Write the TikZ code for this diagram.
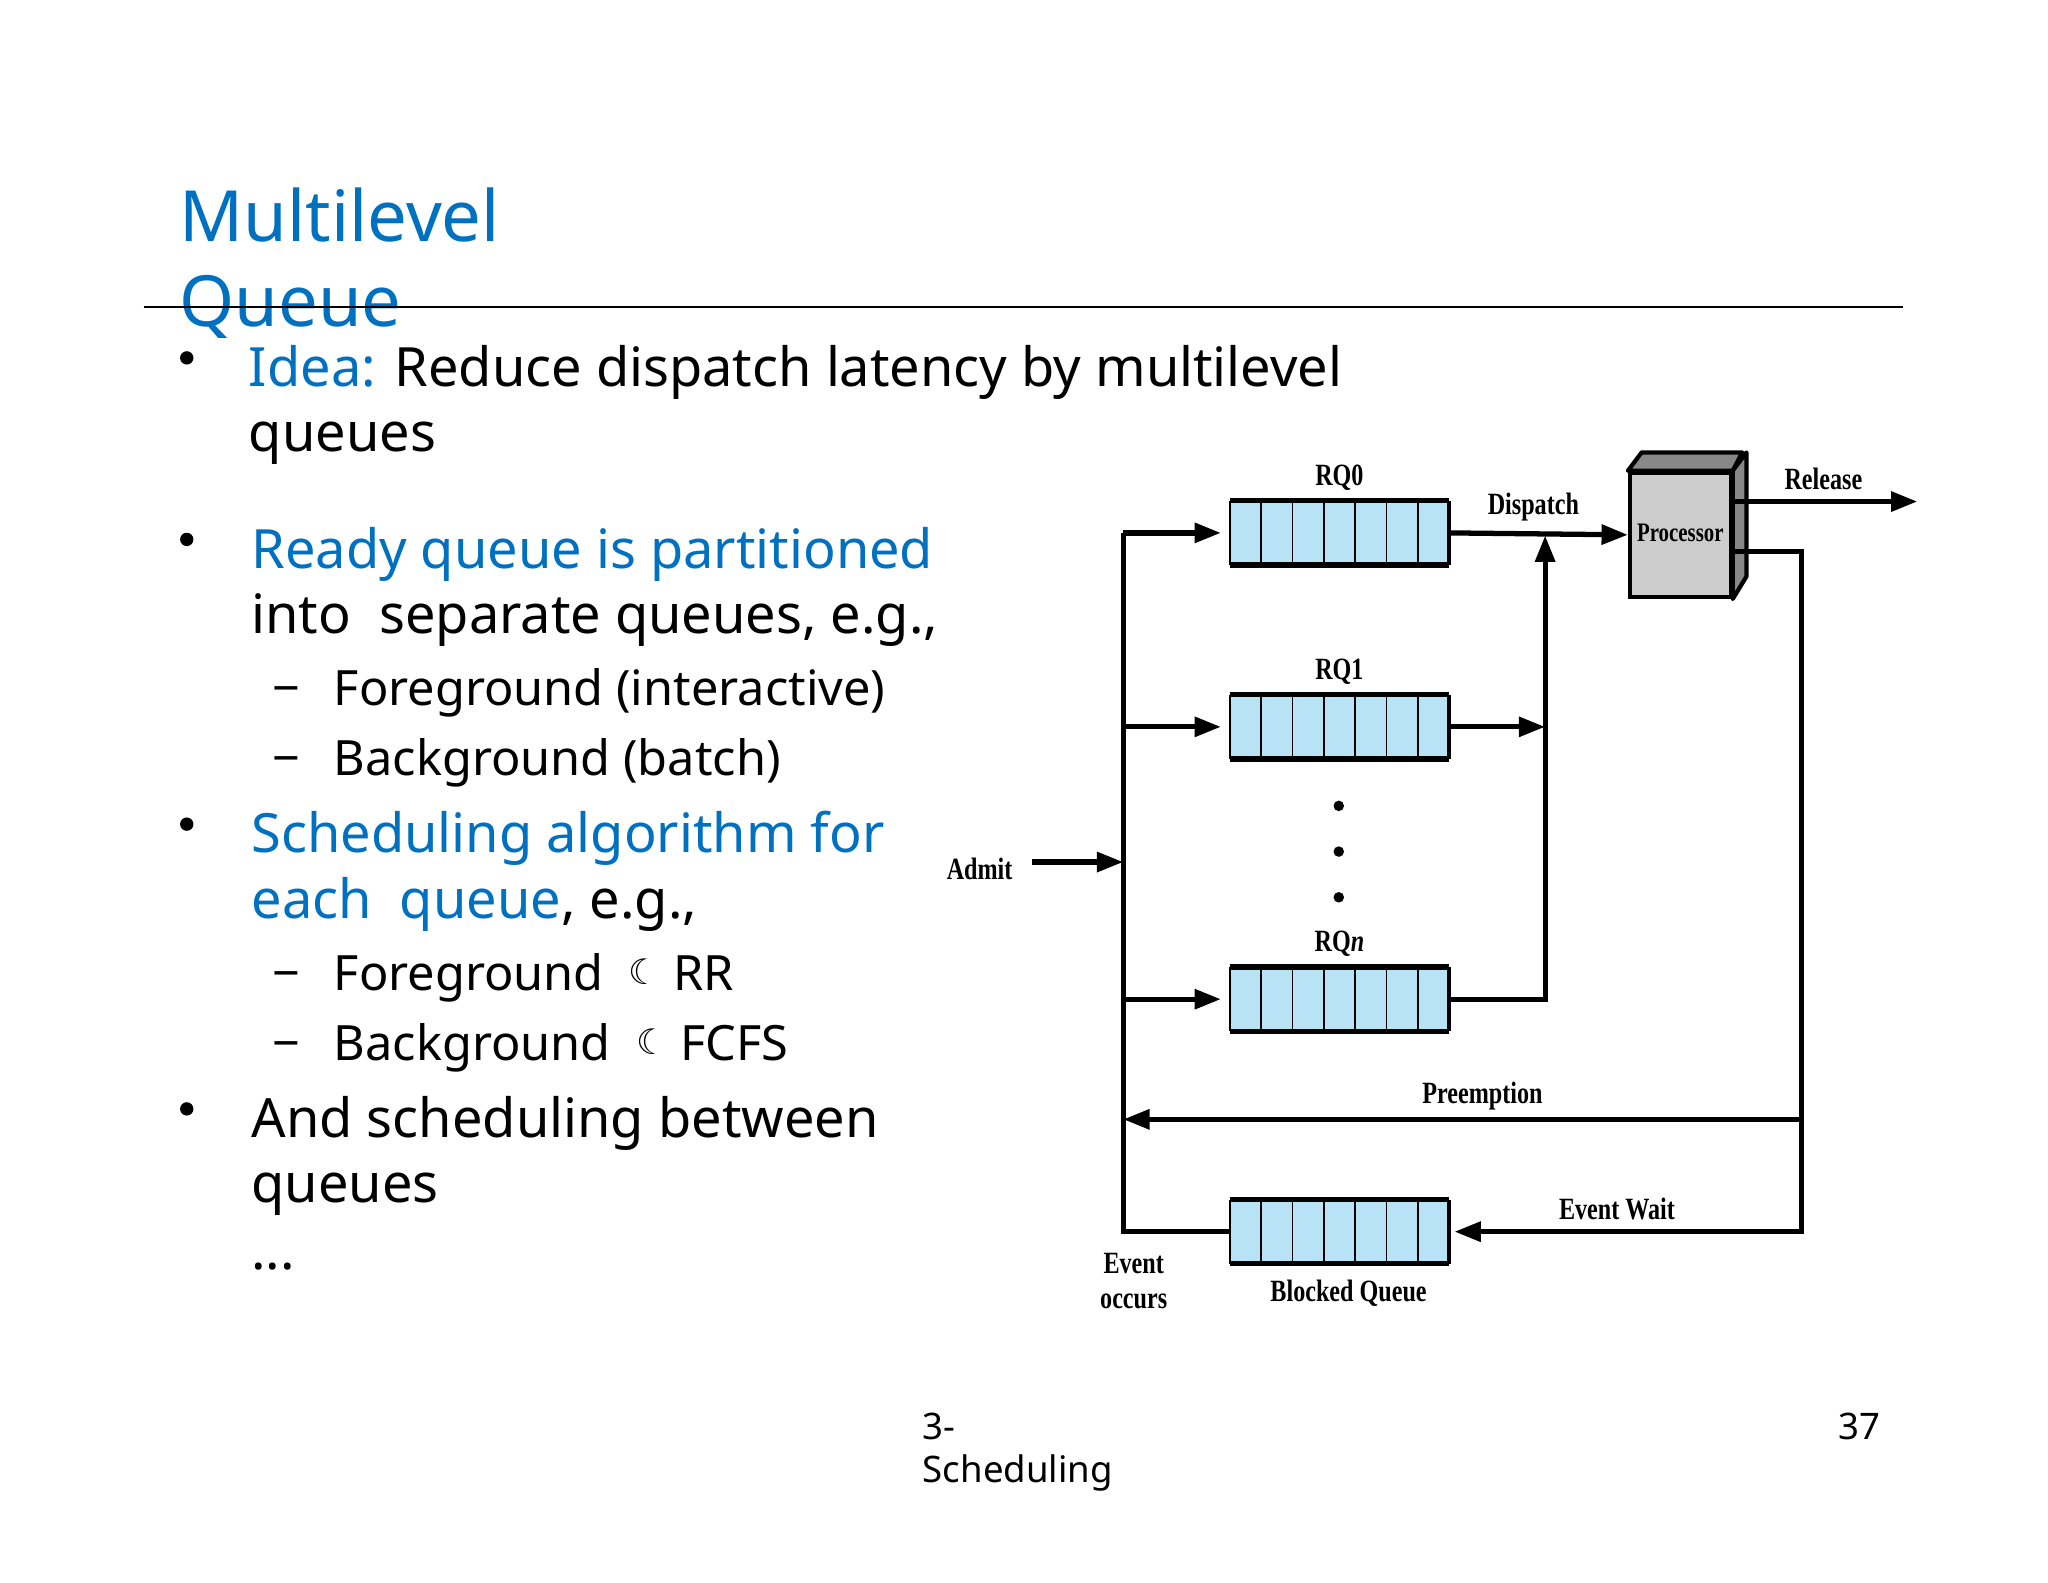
\documentclass[tikz,border=0pt]{standalone}
\usepackage{fontspec}
\setmainfont{Noto Sans}
\newfontfamily\figfont[FakeStretch=0.78]{Liberation Serif}
\newfontfamily\symfont{DejaVu Sans}
\usetikzlibrary{calc,positioning,arrows.meta}
\definecolor{slideblue}{RGB}{0,112,192}
\definecolor{queueblue}{RGB}{184,226,245}
\definecolor{cpugray}{RGB}{204,204,204}
\definecolor{cpudark}{RGB}{136,136,136}
\tikzset{
  title/.style={anchor=base west, inner sep=0pt, text=slideblue,
    font=\fontsize{20.1}{24}\selectfont},
  body/.style={anchor=base west, inner sep=0pt,
    font=\fontsize{15.4}{18.5}\selectfont},
  sub/.style={anchor=base west, inner sep=0pt,
    font=\fontsize{13.85}{16.6}\selectfont},
  foot/.style={anchor=base west, inner sep=0pt,
    font=\fontsize{10.4}{12.5}\selectfont},
  lbl/.style={inner sep=0pt, font=\figfont\bfseries\fontsize{8.8}{10}\selectfont},
  queue/.style={fill=queueblue, minimum width=2.181cm, minimum height=0.627cm,
    inner sep=0pt},
  cell/.style={line width=0.5pt},
  bar/.style={line width=1.5pt},
  wire/.style={line width=1.5pt},
  flow/.style={wire, -{Triangle[length=7.5pt,width=5.5pt]}},
  proc/.style={draw, line width=1.2pt, fill=cpugray, minimum width=1.006cm,
    minimum height=1.241cm, inner sep=0pt,
    font=\figfont\bfseries\fontsize{7.6}{9}\selectfont}
}
\newcommand{\queuecells}[1]{
  \foreach \i in {1,...,6}{
    \draw[cell] ($(#1.south west)!\i/7!(#1.south east)$) -- ($(#1.north west)!\i/7!(#1.north east)$);
  }
  \draw[cell] (#1.south west) -- (#1.north west);
  \draw[cell, line width=1pt] (#1.south east) -- (#1.north east);
  \draw[bar] (#1.north west) -- (#1.north east);
  \draw[bar] (#1.south west) -- (#1.south east);
}
\newcommand{\moon}{{\symfont\fontsize{10}{10}\selectfont\raisebox{0.3ex}{☾}}}

\begin{document}
\begin{tikzpicture}[x=0.013061cm, y=-0.013061cm]
  \path[use as bounding box, fill=white] (0,0) rectangle (1568,1211.3);

  % title and rule
  \node[title] (t1) at (137,185) {Multilevel};
  \node[title] (t2) at (137,250) {Queue};
  \draw[line width=0.6pt] (110,235) -- (1457,235);

  % bullet text
  \foreach \y in {296,435,653,871}{
    \fill (143,\y-22) circle[radius=1.9pt];
  }
  \node[body] (b1) at (190,296) {\textcolor{slideblue}{Idea:} Reduce dispatch latency by multilevel};
  \node[body] (b1b) at (190,346) {queues};
  \node[body, text=slideblue] (b2) at (192,435) {Ready queue is partitioned};
  \node[body] (b2b) at (192,485) {into\ \ separate queues, e.g.,};
  \node[sub] at (208,540) {−}; \node[sub] (s1) at (255,540) {Foreground (interactive)};
  \node[sub] at (208,594) {−}; \node[sub] (s2) at (255,594) {Background (batch)};
  \node[body, text=slideblue] (b3) at (192,653) {Scheduling algorithm for};
  \node[body] (b3b) at (192,703) {\textcolor{slideblue}{each\ \ queue}, e.g.,};
  \node[sub] at (208,758) {−}; \node[sub] (s3) at (255,758) {Foreground \ \moon\ RR};
  \node[sub] at (208,812) {−}; \node[sub] (s4) at (255,812) {Background \ \moon\ FCFS};
  \node[body] (b4) at (192,871) {And scheduling between};
  \node[body] (b4b) at (192,921) {queues};
  \node[body] (b4c) at (192,972) {...};

  % footer
  \node[foot] (f1) at (706,1102) {3-};
  \node[foot] (f2) at (706,1135) {Scheduling};
  \node[foot, anchor=base east] (pg) at (1440,1102) {37};

  % queues
  \node[queue] (rq0) at (1025.5,408) {};
  \node[queue] (rq1) at (1025.5,556.5) {};
  \node[queue] (rqn) at (1025.5,765) {};
  \node[queue] (blk) at (1025.5,943) {};
  \foreach \q in {rq0,rq1,rqn,blk}{ \queuecells{\q} }
  \node[lbl, above=2.8pt of rq0] {RQ0};
  \node[lbl, above=2.8pt of rq1] {RQ1};
  \node[lbl, above=2.8pt of rqn] {RQ\textit{n}};
  \node[lbl, below=4.5pt of blk, xshift=2.6pt] {Blocked Queue};
  \foreach \y in {617,652,687}{
    \fill (1025,\y) circle[radius=1.5pt];
  }

  % processor
  \node[proc] (cpu) at (1286.5,409.5) {\raisebox{1.2pt}{Processor}};
  \draw[line width=1.2pt, fill=cpudark, line join=round]
    (cpu.north west) -- ++(10.5,-14) -- ++(77,0) -- (cpu.north east) -- cycle;
  \draw[line width=1.2pt, fill=cpudark, line join=round]
    (cpu.north east) -- ++(10.5,-14) -- ++(0,95) -- (cpu.south east) -- cycle;

  % coordinates
  \coordinate (ltop) at (860,408);
  \coordinate (rtop) at (1183,410);
  \coordinate (admitsrc) at (790,660);
  \coordinate (relout) at (1468,384);
  \coordinate (pre) at (1379,422);
  \coordinate (preempt) at (1379,857);

  % connectors
  \draw[wire] (ltop) |- (blk.west);
  \draw[flow, shorten >=2.5pt] (ltop) -- (rq0.west);
  \draw[flow, shorten >=2.5pt] (ltop |- rq1.west) -- (rq1.west);
  \draw[flow, shorten >=2.5pt] (ltop |- rqn.west) -- (rqn.west);
  \draw[flow] (admitsrc) -- (admitsrc -| ltop);
  \draw[flow] (rq0.east) -- (cpu.west);
  \draw[flow] (rq1.east) -- (rq1.east -| rtop);
  \draw[flow] (rqn.east) -| (rtop);
  \draw[flow] (cpu.east |- relout) -- (relout);
  \draw[flow, shorten >=1.5pt] (cpu.east |- pre) -- (pre) |- (blk.east);
  \draw[flow] (preempt) -- (preempt -| ltop);

  % labels
  \node[lbl] (admit) at (750,665) {Admit};
  \node[lbl] (disp) at (1174,388) {Dispatch};
  \node[lbl] (rel) at (1396,367) {Release};
  \node[lbl] (prel) at (1135,839) {Preemption};
  \node[lbl] (ewait) at (1238,926) {Event Wait};
  \node[lbl, align=center] (eocc) at (868,981) {Event\\occurs};
\end{tikzpicture}
\end{document}
